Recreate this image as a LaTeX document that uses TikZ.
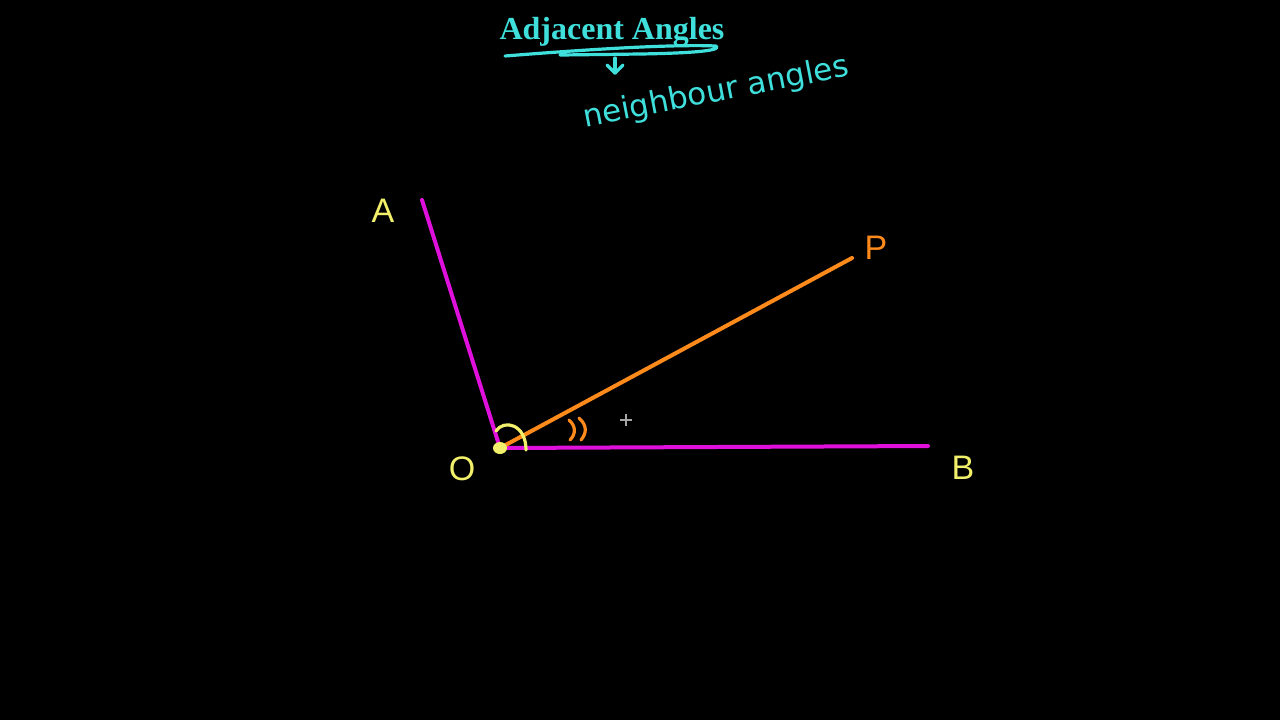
\documentclass[tikz,border=0pt]{standalone}
\usepackage{fontspec}
\setmainfont{Liberation Serif}
\newfontfamily\handfont{DejaVu Sans}
\newfontfamily\labfont{Liberation Sans}
\definecolor{cyanT}{HTML}{3FE0DC}
\definecolor{magT}{HTML}{E010DC}
\definecolor{oraT}{HTML}{FF8A1C}
\definecolor{yelT}{HTML}{F2F06A}
\begin{document}
\begin{tikzpicture}[x=0.5pt,y=-0.5pt,
  ray/.style={line width=2pt,line cap=round},
  pen/.style={line width=1.6pt,line cap=round,line join=round},
  lab/.style={font=\labfont\fontsize{17}{20}\selectfont,inner sep=0pt}]
\fill[black] (0,0) rectangle (1280,720);
\useasboundingbox (0,0) rectangle (1280,720);
% title
\node[text=cyanT,font=\bfseries\fontsize{16}{19}\selectfont,inner sep=0pt] (title) at (612,32) {Adjacent Angles};
\draw[pen,cyanT] (505,56) .. controls (580,50) and (670,44) .. (716,46) .. controls (722,50) and (700,53) .. (640,54) -- (560,55);
\coordinate (ar1) at (615,58);
\coordinate (ar2) at (615,73);
\draw[pen,cyanT] (ar1) -- (ar2);
\draw[pen,cyanT] (607,65) -- (ar2) -- (623,65);
\node[text=cyanT,font=\handfont\fontsize{15.5}{18}\selectfont,rotate=11,inner sep=0pt] (nb) at (716,93) {neighbour angles};
% geometry
\coordinate (O) at (500,448);
\coordinate (A) at (422,200);
\coordinate (B) at (928,446);
\coordinate (P) at (852,258);
\draw[ray,magT] (O) -- (A);
\draw[ray,magT] (O) -- (B);
\draw[ray,oraT] (O) -- (P);
\draw[pen,yelT] (496,431) .. controls (504,419) and (526,424) .. (526,450);
\fill[yelT] (O) ellipse (7 and 6);
\draw[pen,oraT] (569,420) .. controls (576,426) and (576,434) .. (570,440);
\draw[pen,oraT] (579,418) .. controls (587,425) and (587,433) .. (581,440);
\draw[gray!70,line width=0.6pt] (620,420) -- (632,420) (626,414) -- (626,426);
% labels
\node[lab,text=yelT] (lA) at (383,211) {A};
\node[lab,text=yelT] (lO) at (462,469) {O};
\node[lab,text=yelT] (lB) at (963,468) {B};
\node[lab,text=oraT] (lP) at (876,248) {P};
\end{tikzpicture}
\end{document}
